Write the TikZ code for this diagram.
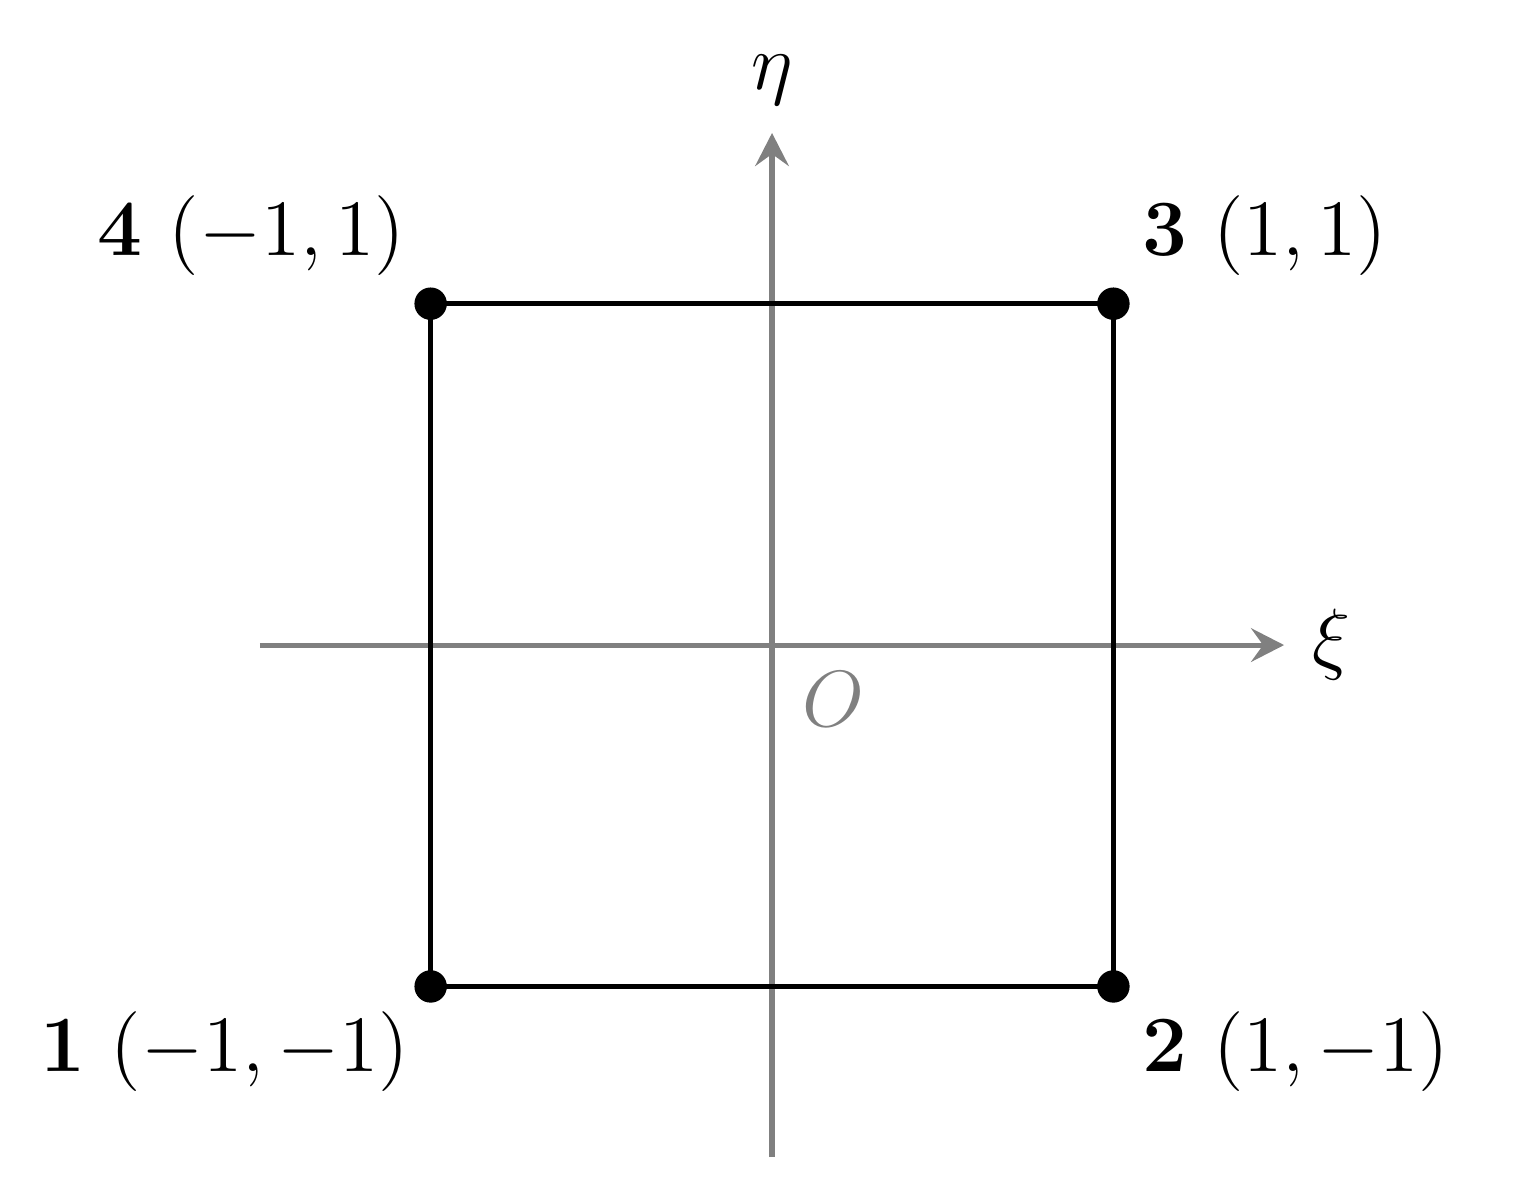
\RequirePackage{fix-cm}
\documentclass[tikz,border=0pt]{standalone}
\usetikzlibrary{arrows.meta}
\begin{document}
\begin{tikzpicture}[
  axis/.style={draw=gray, line width=0.85pt, -{Stealth[length=5.5pt,width=5.6pt,inset=2pt]}},
  edge/.style={draw=black, line width=0.85pt},
  vdot/.style={circle, fill=black, inner sep=0pt, minimum size=0.19cm},
  lbl/.style={inner sep=0pt, font=\fontsize{13.3}{16}\selectfont},
]
\useasboundingbox (-4.523,-3.245) rectangle (4.347,3.779);
% axes
\coordinate (xs) at (-3,0);
\coordinate (xe) at (3,0);
\coordinate (ys) at (0,-3);
\coordinate (ye) at (0,3);
\draw[axis] (xs) -- (xe);
\draw[axis] (ys) -- (ye);
% square
\coordinate (c1) at (-2,-2);
\coordinate (c2) at (2,-2);
\coordinate (c3) at (2,2);
\coordinate (c4) at (-2,2);
\draw[edge] (c1) -- (c2) -- (c3) -- (c4) -- cycle;
\node[vdot] (d1) at (c1) {};
\node[vdot] (d2) at (c2) {};
\node[vdot] (d3) at (c3) {};
\node[vdot] (d4) at (c4) {};
% labels
\node[lbl, anchor=base east] (l4) at (-2.145,2.285) {$\mathbf{4}$ $(-1,1)$};
\node[lbl, anchor=base west] (l3) at (2.162,2.285) {$\mathbf{3}$ $(1,1)$};
\node[lbl, anchor=base east] (l1) at (-2.12,-2.501) {$\mathbf{1}$ $(-1,-1)$};
\node[lbl, anchor=base west] (l2) at (2.162,-2.501) {$\mathbf{2}$ $(1,-1)$};
\node[lbl, anchor=base west] (xi) at (3.16,-0.114) {$\xi$};
\node[lbl, anchor=base] (eta) at (0.0,3.254) {$\eta$};
\node[lbl, anchor=base west, text=gray] (O) at (0.17,-0.480) {$O$};
\end{tikzpicture}
\end{document}
